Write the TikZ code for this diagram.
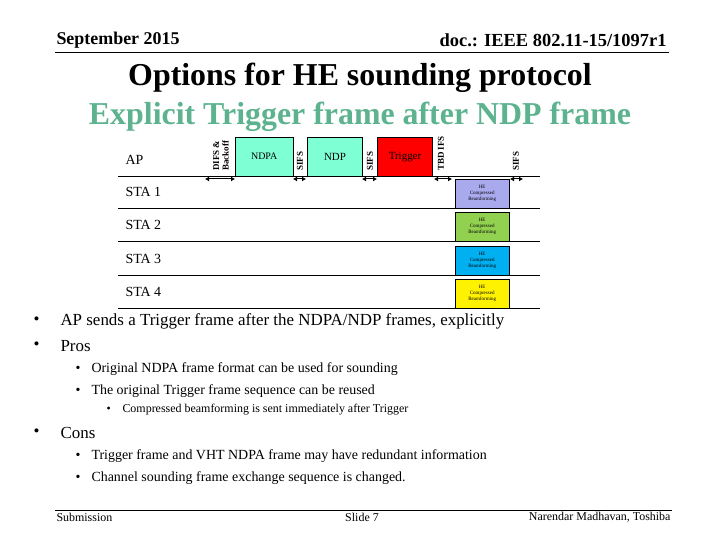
\documentclass[tikz,border=0pt]{standalone}
\usepackage{fontspec}
\setmainfont{Liberation Serif}
\usetikzlibrary{arrows.meta}
\definecolor{ttl}{HTML}{5DB38F}
\definecolor{aqua}{HTML}{7FFFD4}
\definecolor{lav}{HTML}{A9A9EE}
\definecolor{grn}{HTML}{92D050}
\definecolor{sky}{HTML}{00B0F0}
\tikzset{
  frame/.style={draw=black,minimum height=39bp,inner sep=0pt,font=\fontsize{10}{12}\selectfont},
  hebox/.style={draw=black,minimum width=54bp,minimum height=29bp,inner sep=0pt,align=center,font=\fontsize{5}{6}\selectfont},
  vlab/.style={rotate=90,font=\bfseries\fontsize{9}{9.5}\selectfont,align=center,inner sep=0pt},
  dbl/.style={{Latex[length=4bp,width=5bp]}-{Latex[length=4bp,width=5bp]},line width=1bp,shorten <=-1bp,shorten >=-1bp},
  lane/.style={font=\fontsize{14}{16}\selectfont,anchor=west},
  b1/.style={font=\fontsize{17}{19}\selectfont,anchor=west},
  b2/.style={font=\fontsize{14}{16}\selectfont,anchor=west},
  b3/.style={font=\fontsize{12}{14}\selectfont,anchor=west}
}
\begin{document}
\begin{tikzpicture}[x=1bp,y=-1bp]
\useasboundingbox[fill=white] (0,0) rectangle (720,540);
% header / footer
\node[anchor=west,font=\bfseries\fontsize{18}{20}\selectfont] (date) at (53,40) {September 2015};
\node[anchor=east,font=\bfseries\fontsize{18.5}{20}\selectfont] (doc) at (670,40) {doc.: IEEE 802.11-15/1097r1};
\coordinate (h1) at (55,52); \coordinate (h2) at (669,52);
\draw (h1) -- (h2);
\coordinate (f1) at (55,510); \coordinate (f2) at (672,510);
\draw (f1) -- (f2);
\node[anchor=west,font=\fontsize{12}{14}\selectfont] (sub) at (53,517) {Submission};
\node[font=\fontsize{12}{14}\selectfont] (slide) at (362,517) {Slide 7};
\node[anchor=east,font=\fontsize{12}{14}\selectfont] (auth) at (674,517) {Narendar Madhavan, Toshiba};
% titles
\node[font=\bfseries\fontsize{32}{36}\selectfont] (t1) at (360,78) {Options for HE sounding protocol};
\node[font=\bfseries\fontsize{32}{36}\selectfont,text=ttl] (t2) at (360,117) {Explicit Trigger frame after NDP frame};
% lanes
\foreach \n/\y/\t in {ap/176/AP,s1/208/STA 1,s2/241/STA 2,s3/275/STA 3,s4/308/STA 4}{
  \coordinate (\n a) at (118,\y); \coordinate (\n b) at (540,\y);
  \draw (\n a) -- (\n b);
  \node[lane] (\n l) at (122,\y-16) {\t};
}
% AP frames
\node[frame,fill=aqua,minimum width=58bp,anchor=south west] (ndpa) at (235,176) {NDPA};
\node[frame,fill=aqua,minimum width=55bp,anchor=south west] (ndp) at (307,176) {};
\node[font=\fontsize{11}{12}\selectfont] (ndpt) at (335,157) {NDP};
\node[frame,fill=red,minimum width=55bp,anchor=south west] (trig) at (377,176) {};
\node[font=\fontsize{11}{12}\selectfont] (trigt) at (405,157) {Trigger};
% HE boxes
\node[hebox,fill=lav,anchor=south west] (he1) at (455,208) {HE\\Compressed\\Beamforming};
\node[hebox,fill=grn,anchor=south west] (he2) at (455,241) {HE\\Compressed\\Beamforming};
\node[hebox,fill=sky,anchor=south west] (he3) at (455,275) {HE\\Compressed\\Beamforming};
\node[hebox,fill=yellow,anchor=south west] (he4) at (455,308) {HE\\Compressed\\Beamforming};
% vertical labels
\node[vlab,anchor=west] (difs) at (221,171) {DIFS \&\\Backoff};
\node[vlab,anchor=west] (sifs1) at (300,171) {SIFS};
\node[vlab,anchor=west] (sifs2) at (370,171) {SIFS};
\node[vlab,anchor=west] (tbd) at (441,171) {TBD IFS};
\node[vlab,anchor=west] (sifs3) at (516,171) {SIFS};
% arrows
\foreach \n/\a/\b in {d/206/234,e/294/305,f/363/376,g/435/451,h/511/522}{
  \coordinate (\n1) at (\a,179); \coordinate (\n2) at (\b,179);
  \draw[dbl] (\n1) -- (\n2);
}
% bullets
\node[b1] (bl1) at (30,321) {•}; \node[b1] (tx1) at (57,321) {AP sends a Trigger frame after the NDPA/NDP frames, explicitly};
\node[b1] (bl2) at (30,346) {•}; \node[b1] (tx2) at (57,346) {Pros};
\node[b2] (bl3) at (72,369) {•}; \node[b2] (tx3) at (88,369) {Original NDPA frame format can be used for sounding};
\node[b2] (bl4) at (72,391) {•}; \node[b2] (tx4) at (88,391) {The original Trigger frame sequence can be reused};
\node[b3] (bl5) at (103,410) {•}; \node[b3] (tx5) at (119,410) {Compressed beamforming is sent immediately after Trigger};
\node[b1] (bl6) at (30,433) {•}; \node[b1] (tx6) at (57,433) {Cons};
\node[b2] (bl7) at (72,456) {•}; \node[b2] (tx7) at (88,456) {Trigger frame and VHT NDPA frame may have redundant information};
\node[b2] (bl8) at (72,478) {•}; \node[b2] (tx8) at (88,478) {Channel sounding frame exchange sequence is changed.};
\end{tikzpicture}
\end{document}
